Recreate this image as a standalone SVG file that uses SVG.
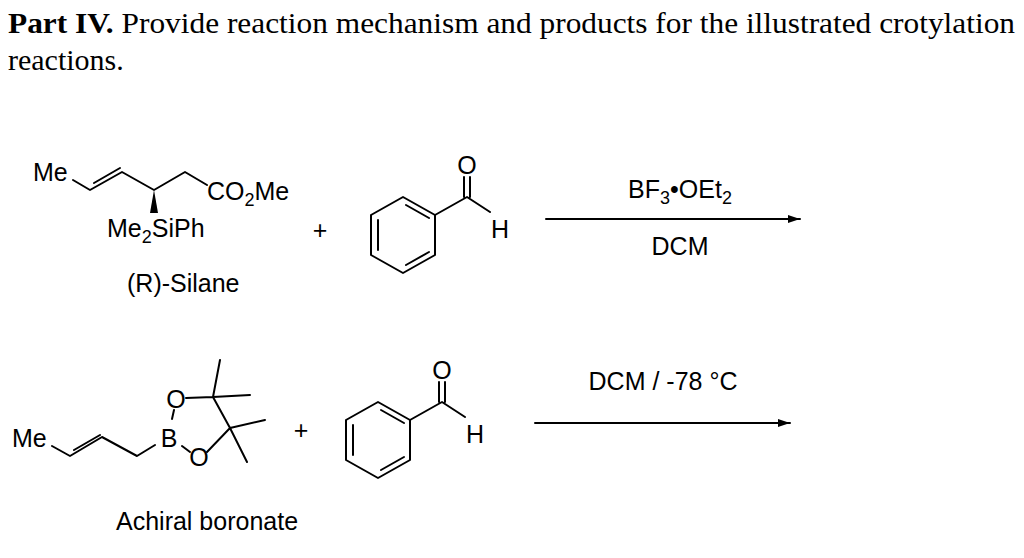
<svg xmlns="http://www.w3.org/2000/svg" width="1024" height="558" viewBox="0 0 1024 558">
<defs>
<style>
.b{stroke:#000;stroke-width:2;fill:none;stroke-linecap:round;stroke-linejoin:round}
.t{font-family:"Liberation Sans",Arial,sans-serif;font-size:25px;fill:#000}
.s{font-size:18px}
.h{font-family:"Liberation Serif","Times New Roman",serif;font-size:30px;fill:#000}
</style>
<marker id="ar" viewBox="0 0 12 8" refX="12" refY="4" markerWidth="12" markerHeight="8" markerUnits="userSpaceOnUse" orient="auto"><path d="M0,0L12,4L0,8Z" fill="#000"/></marker>
<g id="benz">
<path class="b" d="M403,197L435,215L435,255L403,273L371,255L371,215Z M378,220L378,250 M406,205L429,218 M406,265L429,252 M435,215L467,197L490,212 M464,197L464,177 M470,197L470,177"/>
<text class="t" x="467" y="174" text-anchor="middle">O</text>
<text class="t" x="500" y="238" text-anchor="middle">H</text>
</g>
</defs>
<text class="h" x="8" y="33" textLength="1007" lengthAdjust="spacingAndGlyphs"><tspan font-weight="bold">Part IV.</tspan> Provide reaction mechanism and products for the illustrated crotylation</text>
<text class="h" x="8" y="70">reactions.</text>
<g id="silane">
<path class="b" d="M73,180L90,190L122,172L154,190L185,172L207,185 M94,183L120,168"/>
<path d="M154,190L150,213L158,213Z" fill="#000"/>
<text class="t" x="33" y="181">Me</text>
<text class="t" x="207" y="200">CO<tspan class="s" dy="6">2</tspan><tspan dy="-6">Me</tspan></text>
<text class="t" x="107" y="237">Me<tspan class="s" dy="6">2</tspan><tspan dy="-6">SiPh</tspan></text>
<text class="t" x="127" y="292">(R)-Silane</text>
</g>
<text id="plus1" class="t" x="320" y="239" text-anchor="middle">+</text>
<use id="ald1" href="#benz"/>
<g id="boronate">
<path class="b" d="M52,446L70,456L102,437L137,456L155,445 M74,450L100,435 M172,419L174,410 M182,446L190,452 M186,398L213,397L230,428L207,452 M213,397L220,360 M213,397L250,395 M230,428L265,420 M230,428L247,462"/>
<text class="t" x="12" y="447">Me</text>
<text class="t" x="169" y="447" text-anchor="middle">B</text>
<text class="t" x="176" y="408" text-anchor="middle">O</text>
<text class="t" x="199" y="466" text-anchor="middle">O</text>
<text class="t" x="116" y="530">Achiral boronate</text>
</g>
<text id="plus2" class="t" x="301" y="439" text-anchor="middle">+</text>
<use id="ald2" href="#benz" transform="translate(-25,205)"/>
<g id="connectors">
<line class="b" x1="546" y1="219" x2="800" y2="219" marker-end="url(#ar)"/>
<line class="b" x1="535" y1="423" x2="790" y2="423" marker-end="url(#ar)"/>
</g>
<text class="t" x="680" y="198" text-anchor="middle">BF<tspan class="s" dy="6">3</tspan><tspan dy="-6">•OEt</tspan><tspan class="s" dy="6">2</tspan></text>
<text class="t" x="680" y="255" text-anchor="middle">DCM</text>
<text class="t" x="663" y="390" text-anchor="middle">DCM / -78 °C</text>
</svg>
